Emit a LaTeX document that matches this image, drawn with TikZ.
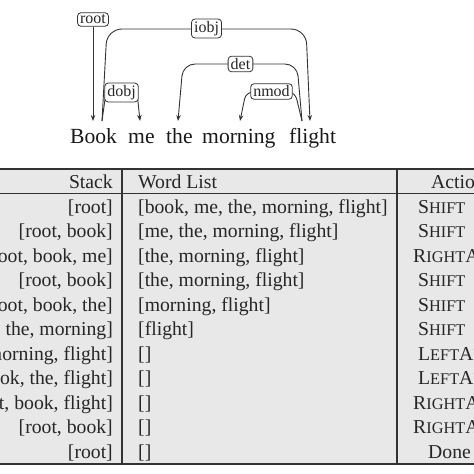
\documentclass[tikz,border=0pt]{standalone}
\usepackage{fontspec}
\setmainfont{Liberation Serif}
\usetikzlibrary{arrows.meta}
\definecolor{tablebg}{HTML}{E8E8E8}
\definecolor{ink}{HTML}{333333}
\newcommand\szA{\fontsize{19.7}{20}\selectfont}
\newcommand\szS{\fontsize{16.3}{17}\selectfont}
\newcommand\scShift{S{\szS HIFT}}
\newcommand\scRight{R{\szS IGHT}A{\szS RC}}
\newcommand\scLeft{L{\szS EFT}A{\szS RC}}
\tikzset{
  word/.style={anchor=base west,inner sep=0pt,font=\fontsize{21.6}{22}\selectfont,text=black!90},
  deplabel/.style={draw=ink,fill=white,rounded corners=3.5pt,inner xsep=2.6pt,inner ysep=2.2pt,line width=0.8pt,font=\fontsize{16}{16}\selectfont,text=black!85},
  depedge/.style={draw=ink,line width=0.9pt,-{Stealth[length=6pt,width=4.5pt]}},
  rule/.style={draw=ink,line width=1.3pt},
  cellL/.style={anchor=base west,inner sep=0pt,font=\szA,text=black!85},
  cellR/.style={anchor=base east,inner sep=0pt,font=\szA,text=black!85},
}
\begin{document}
\begin{tikzpicture}[x=1pt,y=-1pt]
\useasboundingbox (0,0) rectangle (474,474);
\clip (0,0) rectangle (474,474);
% table background
\fill[tablebg] (0,169) rectangle (474,464);
\coordinate (tl) at (0,169);
\coordinate (tr) at (474,169);
\coordinate (hl) at (0,193.5);
\coordinate (hr) at (474,193.5);
\coordinate (bl) at (0,464);
\coordinate (br) at (474,464);
\coordinate (v1t) at (122,169);
\coordinate (v1b) at (122,464);
\coordinate (v2t) at (397,169);
\coordinate (v2b) at (397,464);
\draw[rule] (tl) -- (tr);
\draw[rule,line width=1pt] (hl) -- (hr);
\draw[rule] (bl) -- (br);
\draw[rule,line width=1.6pt] (v1t) -- (v1b);
\draw[rule,line width=1.2pt] (v2t) -- (v2b);
% header
\node[cellR] (hStack) at (113,188) {Stack};
\node[cellL] (hWord) at (138,188) {Word List};
\node[cellL] (hAct) at (431,188) {Action};
% rows
\foreach \i/\st/\wl in {
  0/{[root]}/{[book, me, the, morning, flight]},
  1/{[root, book]}/{[me, the, morning, flight]},
  2/{[root, book, me]}/{[the, morning, flight]},
  3/{[root, book]}/{[the, morning, flight]},
  4/{[root, book, the]}/{[morning, flight]},
  5/{[root, book, the, morning]}/{[flight]},
  6/{[root, book, the, morning, flight]}/{[]},
  7/{[root, book, the, flight]}/{[]},
  8/{[root, book, flight]}/{[]},
  9/{[root, book]}/{[]},
  10/{[root]}/{[]}}{
  \node[cellR] (s\i) at (113,213+24.5*\i) {\st};
  \node[cellL] (w\i) at (138,213+24.5*\i) {\wl};
}
\node[cellL] (a0) at (418,213) {\scShift};
\node[cellL] (a1) at (418,237.5) {\scShift};
\node[cellL] (a2) at (413,262) {\scRight};
\node[cellL] (a3) at (418,286.5) {\scShift};
\node[cellL] (a4) at (418,311) {\scShift};
\node[cellL] (a5) at (418,335.5) {\scShift};
\node[cellL] (a6) at (418,360) {\scLeft};
\node[cellL] (a7) at (418,384.5) {\scLeft};
\node[cellL] (a8) at (413,409) {\scRight};
\node[cellL] (a9) at (413,433.5) {\scRight};
\node[cellL] (a10) at (428,458) {Done};
% sentence
\node[word] (Book) at (70,143) {Book};
\node[word] (me) at (128,143) {me};
\node[word] (the) at (166,143) {the};
\node[word] (morning) at (202,143) {morning};
\node[word] (flight) at (289,143) {flight};
% edge end points
\coordinate (bookTop) at (102,121);
\coordinate (rootTip) at (93,121);
\coordinate (meTip) at (140,121);
\coordinate (theTip) at (178,121);
\coordinate (morningTip) at (240,121);
\coordinate (flightTip) at (310,121);
\coordinate (flightTop) at (302,121);
% edges
\draw[depedge,rounded corners=15pt] (bookTop) -- (107,29) -- (306,29) -- (flightTip);
\draw[depedge,rounded corners=12pt] (flightTop) -- (297,64) -- (183,64) -- (theTip);
\draw[depedge,rounded corners=7pt] (flightTop) -- (295,92) -- (246,92) -- (morningTip);
\draw[depedge,rounded corners=5pt] (bookTop) -- (106,92) -- (137,92) -- (meTip);
% labels
\node[deplabel] (lroot) at (93,19.5) {root};
\draw[depedge] (lroot.south) -- (rootTip);
\node[deplabel] (liobj) at (206.5,28.5) {iobj};
\node[deplabel] (ldet) at (240.5,64) {det};
\node[deplabel] (lnmod) at (271.5,91.5) {nmod};
\node[deplabel] (ldobj) at (121.5,92.5) {dobj};
\end{tikzpicture}
\end{document}
